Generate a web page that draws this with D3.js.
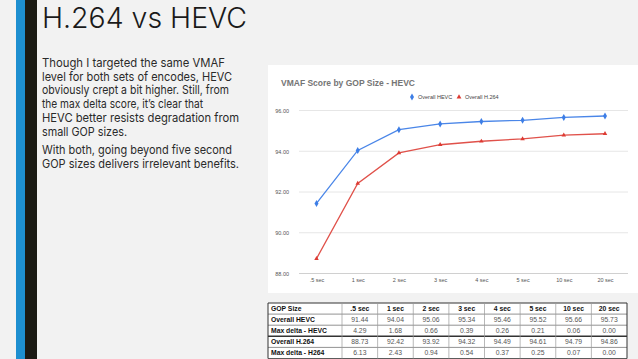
<!DOCTYPE html>
<html><head><meta charset="utf-8">
<script src="https://cdn.jsdelivr.net/npm/d3@7"></script>
<style>html,body{margin:0;padding:0;background:#f2f2f2;overflow:hidden}</style>
</head><body>
<svg id="c" width="638" height="359"></svg>
<script>
const categories = [".5 sec","1 sec","2 sec","3 sec","4 sec","5 sec","10 sec","20 sec"];
const hevc = [91.44,94.04,95.06,95.34,95.46,95.52,95.66,95.73];
const hevcDelta = [4.29,1.68,0.66,0.39,0.26,0.21,0.06,0.00];
const h264 = [88.73,92.42,93.92,94.32,94.49,94.61,94.79,94.86];
const h264Delta = [6.13,2.43,0.94,0.54,0.37,0.25,0.07,0.00];
const yTicks = [88,90,92,94,96];
const seriesNames = ["Overall HEVC","Overall H.264"];
const tableRowLabels = ["Overall HEVC","Max delta - HEVC","Overall H.264","Max delta - H264"];
const title = "H.264 vs HEVC";
const chartTitle = "VMAF Score by GOP Size - HEVC";
const para1 = ["Though I targeted the same VMAF","level for both sets of encodes, HEVC","obviously crept a bit higher. Still, from","the max delta score, it\u2019s clear that","HEVC better resists degradation from","small GOP sizes."];
const para2 = ["With both, going beyond five second","GOP sizes delivers irrelevant benefits."];
const para1Widths = [183,190,187,161,197,85];
const para2Widths = [190,197];

const svg = d3.select("#c");
svg.append("rect").attr("width",638).attr("height",359).attr("fill","#f2f2f2");
svg.append("rect").attr("x",16).attr("y",0).attr("width",9).attr("height",359).attr("fill","#1e8fd0");
svg.append("rect").attr("x",25).attr("y",0).attr("width",12).attr("height",359).attr("fill","#1b1a14");

svg.append("text").attr("x",42).attr("y",28).attr("font-family","Inter, 'Noto Sans', sans-serif")
  .attr("font-weight",300).attr("font-size",28).attr("fill","#1a1a1a")
  .attr("textLength",205).attr("lengthAdjust","spacingAndGlyphs").text(title);

const bodyFont = "Inter, 'Noto Sans', sans-serif";
function para(lines, widths, y0){
  lines.forEach((l,i)=>{
    svg.append("text").attr("x",42).attr("y",y0+i*13.7).attr("font-family",bodyFont)
      .attr("font-size",12).attr("font-weight",400).attr("fill","#2a2a2a")
      .attr("textLength",widths[i]).attr("lengthAdjust","spacingAndGlyphs").text(l);
  });
}
para(para1, para1Widths, 67);
para(para2, para2Widths, 154);

svg.append("rect").attr("x",268).attr("y",65).attr("width",372).attr("height",228).attr("fill","#fff");
const cf = "'Liberation Sans', Arial, sans-serif";
svg.append("text").attr("x",281).attr("y",85.5).attr("font-family",cf).attr("font-weight","bold")
  .attr("font-size",8.5).attr("fill","#757575").text(chartTitle);

const x = d3.scalePoint().domain(categories).range([316.5,605]);
const y = d3.scaleLinear().domain([88,96]).range([273.5,110.5]);

const grid = svg.append("g");
yTicks.forEach(t=>{
  grid.append("line").attr("x1",299).attr("x2",628).attr("y1",y(t)).attr("y2",y(t))
    .attr("stroke", t===88 ? "#d0d0d0" : "#e6e6e6").attr("stroke-width",1);
});
const yAxis = d3.axisLeft(y).tickValues(yTicks).tickSize(0).tickFormat(d3.format(".2f"));
const gy = svg.append("g").attr("transform","translate(292,0)").call(yAxis);
gy.select(".domain").remove();
gy.selectAll("text").attr("font-family",cf).attr("font-size",5.5).attr("fill","#555").attr("dx",0).attr("text-anchor","end");

const xAxis = d3.axisBottom(x).tickSize(0);
const gx = svg.append("g").attr("transform","translate(0,275)").call(xAxis);
gx.select(".domain").remove();
gx.selectAll("text").attr("font-family",cf).attr("font-size",5.5).attr("fill","#555");

const line = d3.line().x((d,i)=>x(categories[i])).y(d=>y(d));
svg.append("path").datum(hevc).attr("d",line).attr("fill","none").attr("stroke","#4a86e8").attr("stroke-width",1.3);
svg.append("path").datum(h264).attr("d",line).attr("fill","none").attr("stroke","#e0514a").attr("stroke-width",1.3);
svg.selectAll(".ph").data(hevc).enter().append("path")
  .attr("d",d3.symbol(d3.symbolDiamond,14)())
  .attr("transform",(d,i)=>`translate(${x(categories[i])},${y(d)})`).attr("fill","#3d7ee6");
svg.selectAll(".pr").data(h264).enter().append("path")
  .attr("d",d3.symbol(d3.symbolTriangle,9)())
  .attr("transform",(d,i)=>`translate(${x(categories[i])},${y(d)})`).attr("fill","#dd3b33");

const lg = svg.append("g");
lg.append("path").attr("d",d3.symbol(d3.symbolDiamond,14)()).attr("transform","translate(412,97)").attr("fill","#3d7ee6");
lg.append("text").attr("x",418).attr("y",99).attr("font-family",cf).attr("font-size",5.5).attr("fill","#444").text(seriesNames[0]);
lg.append("path").attr("d",d3.symbol(d3.symbolTriangle,10)()).attr("transform","translate(459,97)").attr("fill","#dd3b33");
lg.append("text").attr("x",465).attr("y",99).attr("font-family",cf).attr("font-size",5.5).attr("fill","#444").text(seriesNames[1]);

const rows = [hevc,hevcDelta,h264,h264Delta];
const tx0 = 268, tFirst = 342, tRight = 627, ty0 = 303, rh = 11.1;
const cw = (tRight - tFirst)/categories.length;
const tb = svg.append("g");
tb.append("rect").attr("x",tx0).attr("y",ty0).attr("width",tRight-tx0).attr("height",rh*5).attr("fill","#fff");
for(let r=0;r<=5;r++){
  tb.append("line").attr("x1",tx0).attr("x2",tRight).attr("y1",ty0+r*rh).attr("y2",ty0+r*rh)
    .attr("stroke", (r===0||r===3||r===5)?"#333":"#777").attr("stroke-width",(r===3)?1.6:(r===0?1:0.8));
}
tb.append("line").attr("x1",tx0).attr("x2",tx0).attr("y1",ty0).attr("y2",ty0+rh*5).attr("stroke","#333").attr("stroke-width",1);
for(let c=0;c<=categories.length;c++){
  const xx = tFirst + c*cw;
  tb.append("line").attr("x1",xx).attr("x2",xx).attr("y1",ty0).attr("y2",ty0+rh*5)
    .attr("stroke", c===categories.length?"#333":"#999").attr("stroke-width",c===categories.length?1:0.7);
}
const tf = "'Liberation Sans', Arial, sans-serif";
tb.append("text").attr("x",tx0+3).attr("y",ty0+rh*0.5+2.5).attr("font-family",tf).attr("font-weight","bold")
  .attr("font-size",6.8).attr("fill","#111").text("GOP Size");
categories.forEach((c,i)=>{
  tb.append("text").attr("x",tFirst+cw*(i+0.5)).attr("y",ty0+rh*0.5+2.5).attr("text-anchor","middle")
    .attr("font-family",tf).attr("font-weight","bold").attr("font-size",6.8).attr("fill","#111").text(c);
});
tableRowLabels.forEach((lab,r)=>{
  const yy = ty0+rh*(r+1.5)+2.5;
  tb.append("text").attr("x",tx0+3).attr("y",yy).attr("font-family",tf).attr("font-weight","bold")
    .attr("font-size",6.8).attr("fill","#111").text(lab);
  rows[r].forEach((v,i)=>{
    tb.append("text").attr("x",tFirst+cw*(i+0.5)).attr("y",yy).attr("text-anchor","middle")
      .attr("font-family",tf).attr("font-size",6.8).attr("fill","#555").text(v.toFixed(2));
  });
});
</script>
</body></html>
